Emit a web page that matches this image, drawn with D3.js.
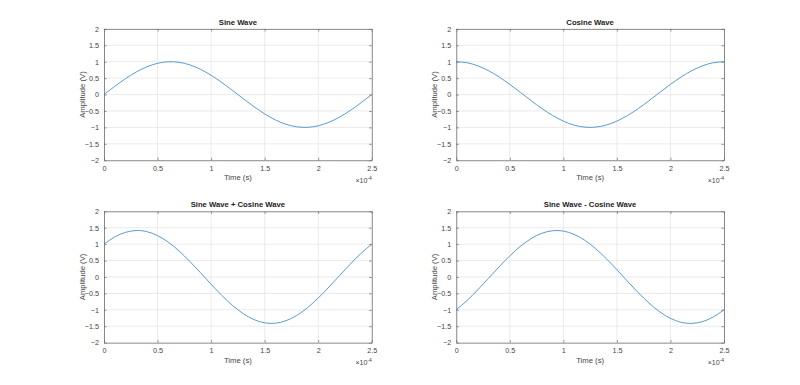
<!DOCTYPE html>
<html>
<head>
<meta charset="utf-8">
<script src="https://cdn.jsdelivr.net/npm/d3@7"></script>
<style>
  body { margin: 0; background: #fff; }
  svg { display: block; font-family: "Liberation Sans", Arial, sans-serif; }
</style>
</head>
<body>
<svg id="fig" width="800" height="385"></svg>
<script>
// time samples, in units of 1e-4 s
var time = [0, 0.1, 0.2, 0.3, 0.4, 0.5, 0.6, 0.7, 0.8, 0.9, 1.0, 1.1, 1.2,
            1.3, 1.4, 1.5, 1.6, 1.7, 1.8, 1.9, 2.0, 2.1, 2.2, 2.3, 2.4, 2.5];

var sineWave = [0, 0.249, 0.482, 0.685, 0.844, 0.951, 0.998, 0.982, 0.905, 0.771, 0.588, 0.368, 0.125,
                -0.125, -0.368, -0.588, -0.771, -0.905, -0.982, -0.998, -0.951, -0.844, -0.685, -0.482, -0.249, 0];

var cosineWave = [1, 0.969, 0.876, 0.729, 0.536, 0.309, 0.063, -0.187, -0.426, -0.637, -0.809, -0.930, -0.992,
                  -0.992, -0.930, -0.809, -0.637, -0.426, -0.187, 0.063, 0.309, 0.536, 0.729, 0.876, 0.969, 1];

var sumWave = [1, 1.218, 1.358, 1.414, 1.380, 1.260, 1.061, 0.795, 0.479, 0.134, -0.221, -0.562, -0.867,
               -1.117, -1.298, -1.397, -1.408, -1.331, -1.169, -0.935, -0.642, -0.308, 0.044, 0.394, 0.720, 1];

var diffWave = [-1, -0.720, -0.394, -0.044, 0.308, 0.642, 0.935, 1.169, 1.331, 1.408, 1.397, 1.298, 1.117,
                0.867, 0.562, 0.221, -0.134, -0.479, -0.795, -1.061, -1.260, -1.380, -1.414, -1.358, -1.218, -1];

var titles = ["Sine Wave", "Cosine Wave", "Sine Wave + Cosine Wave", "Sine Wave - Cosine Wave"];
var series = [sineWave, cosineWave, sumWave, diffWave];

var xTicks = [0, 0.5, 1, 1.5, 2, 2.5];
var yTicks = [-2, -1.5, -1, -0.5, 0, 0.5, 1, 1.5, 2];

var svg = d3.select("#fig");
var W = 800, H = 385;

// matlab default 2x2 subplot positions (normalized)
var cols = [0.13, 0.5703], rows = [0.5838, 0.11];
var pw = 0.3347 * W, ph = 0.3412 * H;

var axisColor = "#6a6a6a";
var textColor = "#444";
var gridColor = "#e3e3e3";
var lineColor = "#3a8bc8";

series.forEach(function(vals, i) {
  var left = cols[i % 2] * W;
  var top = H - (rows[Math.floor(i / 2)] * H) - ph;

  var x = d3.scaleLinear().domain([0, 2.5]).range([0, pw]);
  var y = d3.scaleLinear().domain([-2, 2]).range([ph, 0]);

  var g = svg.append("g").attr("transform", "translate(" + left + "," + top + ")");

  // grid
  g.append("g").selectAll("line.gx")
    .data(xTicks.slice(1, -1)).enter().append("line")
      .attr("x1", function(d) { return x(d); }).attr("x2", function(d) { return x(d); })
      .attr("y1", 0).attr("y2", ph)
      .attr("stroke", gridColor).attr("stroke-width", 0.7);
  g.append("g").selectAll("line.gy")
    .data(yTicks.slice(1, -1)).enter().append("line")
      .attr("y1", function(d) { return y(d); }).attr("y2", function(d) { return y(d); })
      .attr("x1", 0).attr("x2", pw)
      .attr("stroke", gridColor).attr("stroke-width", 0.7);

  // data line
  var line = d3.line()
    .x(function(d, j) { return x(time[j]); })
    .y(function(d) { return y(d); })
    .curve(d3.curveNatural);
  g.append("path").datum(vals)
    .attr("fill", "none").attr("stroke", lineColor).attr("stroke-width", 0.85)
    .attr("d", line);

  // axes (ticks inward, box on)
  var tl = 2.6;
  var xb = d3.axisBottom(x).tickValues(xTicks).tickSizeInner(-tl).tickSizeOuter(0).tickPadding(5.5).tickFormat(d3.format("~g"));
  var xt = d3.axisTop(x).tickValues(xTicks).tickSizeInner(-tl).tickSizeOuter(0).tickFormat("");
  var yl = d3.axisLeft(y).tickValues(yTicks).tickSizeInner(-tl).tickSizeOuter(0).tickPadding(5).tickFormat(d3.format("~g"));
  var yr = d3.axisRight(y).tickValues(yTicks).tickSizeInner(-tl).tickSizeOuter(0).tickFormat("");

  [g.append("g").attr("transform", "translate(0," + ph + ")").call(xb),
   g.append("g").call(xt),
   g.append("g").call(yl),
   g.append("g").attr("transform", "translate(" + pw + ",0)").call(yr)
  ].forEach(function(a) {
    a.select(".domain").attr("stroke", axisColor).attr("stroke-width", 0.8);
    a.selectAll(".tick line").attr("stroke", axisColor).attr("stroke-width", 0.7);
    a.selectAll(".tick text").attr("fill", textColor).style("font-size", "7.2px");
  });

  // title
  g.append("text")
    .attr("x", pw / 2).attr("y", -4)
    .attr("text-anchor", "middle")
    .style("font-size", "7.7px").style("font-weight", "bold").attr("fill", "#222")
    .text(titles[i]);

  // x label
  g.append("text")
    .attr("x", pw / 2).attr("y", ph + 20)
    .attr("text-anchor", "middle")
    .style("font-size", "7.7px").attr("fill", textColor)
    .text("Time (s)");

  // exponent
  var ex = g.append("text")
    .attr("x", pw).attr("y", ph + 22.5)
    .attr("text-anchor", "end")
    .style("font-size", "7px").attr("fill", textColor);
  ex.append("tspan").text("\u00d710");
  ex.append("tspan").attr("dy", -3).style("font-size", "5px").text("-4");

  // y label
  g.append("text")
    .attr("transform", "translate(" + (-19) + "," + (ph / 2) + ") rotate(-90)")
    .attr("text-anchor", "middle")
    .style("font-size", "7.7px").attr("fill", textColor)
    .text("Amplitude (V)");
});
</script>
</body>
</html>
